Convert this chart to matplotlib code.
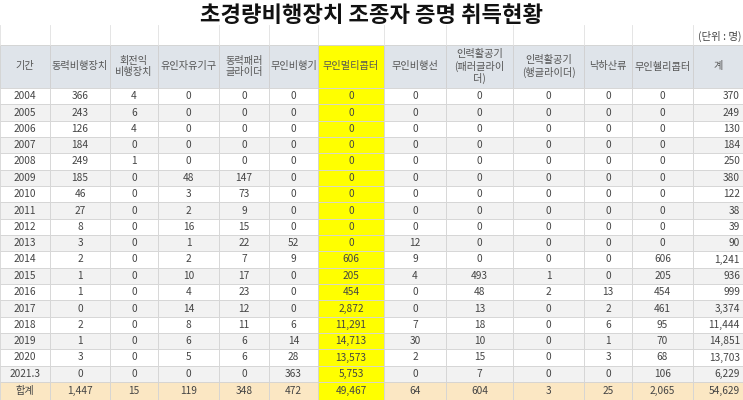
import matplotlib
matplotlib.use('Agg')
import matplotlib.pyplot as plt
from matplotlib.patches import Rectangle

plt.rcParams['font.family'] = 'Noto Sans CJK KR'

TITLE = '초경량비행장치 조종자 증명 취득현황'
UNIT = '(단위 : 명)'
HEADERS = ['기간', '동력비행장치', '회전익\n비행장치', '유인자유기구', '동력패러\n글라이더', '무인비행기',
           '무인멀티콥터', '무인비행선', '인력활공기\n(패러글라이\n더)', '인력활공기\n(행글라이더)',
           '낙하산류', '무인헬리콥터', '계']
YEARS = ['2004', '2005', '2006', '2007', '2008', '2009', '2010', '2011', '2012', '2013',
         '2014', '2015', '2016', '2017', '2018', '2019', '2020', '2021.3', '합계']
powered = [366, 243, 126, 184, 249, 185, 46, 27, 8, 3, 2, 1, 1, 0, 2, 1, 3, 0, 1447]
rotor = [4, 6, 4, 0, 1, 0, 0, 0, 0, 0, 0, 0, 0, 0, 0, 0, 0, 0, 15]
balloon = [0, 0, 0, 0, 0, 48, 3, 2, 16, 1, 2, 10, 4, 14, 8, 6, 5, 0, 119]
paraglider_pw = [0, 0, 0, 0, 0, 147, 73, 9, 15, 22, 7, 17, 23, 12, 11, 6, 6, 0, 348]
uav_plane = [0, 0, 0, 0, 0, 0, 0, 0, 0, 52, 9, 0, 0, 0, 6, 14, 28, 363, 472]
multicopter = [0, 0, 0, 0, 0, 0, 0, 0, 0, 0, 606, 205, 454, 2872, 11291, 14713, 13573, 5753, 49467]
airship = [0, 0, 0, 0, 0, 0, 0, 0, 0, 12, 9, 4, 0, 0, 7, 30, 2, 0, 64]
paraglider = [0, 0, 0, 0, 0, 0, 0, 0, 0, 0, 0, 493, 48, 13, 18, 10, 15, 7, 604]
hangglider = [0, 0, 0, 0, 0, 0, 0, 0, 0, 0, 0, 1, 2, 0, 0, 0, 0, 0, 3]
parachute = [0, 0, 0, 0, 0, 0, 0, 0, 0, 0, 0, 0, 13, 2, 6, 1, 3, 0, 25]
helicopter = [0, 0, 0, 0, 0, 0, 0, 0, 0, 0, 606, 205, 454, 461, 95, 70, 68, 106, 2065]
total = [370, 249, 130, 184, 250, 380, 122, 38, 39, 90, 1241, 936, 999, 3374, 11444, 14851, 13703, 6229, 54629]

columns = [powered, rotor, balloon, paraglider_pw, uav_plane, multicopter, airship,
           paraglider, hangglider, parachute, helicopter, total]

# layout in pixels
COL_X = [0, 50, 110, 158, 219, 269, 318, 384, 446, 513, 584, 632, 693, 743]
HEAD_TOP, HEAD_BOT = 45, 88
ROW_H = (382 - HEAD_BOT) / 18.0
HIGHLIGHT = 6

fig = plt.figure(figsize=(7.43, 4.0), dpi=100)
ax = fig.add_axes([0, 0, 1, 1])
ax.set_xlim(0, 743)
ax.set_ylim(400, 0)
ax.axis('off')

ax.text(371, 15, TITLE, ha='center', va='center', fontsize=16, fontweight='bold', color='#111111')
ax.text(741, 36, UNIT, ha='right', va='center', fontsize=7.5, color='#444444')

# header
for c in range(13):
    x0, x1 = COL_X[c], COL_X[c + 1]
    fc = '#ffff00' if c == HIGHLIGHT else '#dfe4ea'
    ax.add_patch(Rectangle((x0, HEAD_TOP), x1 - x0, HEAD_BOT - HEAD_TOP, fc=fc, ec='#d0d0d0', lw=0.6))
    ax.text((x0 + x1) / 2, (HEAD_TOP + HEAD_BOT) / 2, HEADERS[c], ha='center', va='center',
            fontsize=7.3, color='#555555', linespacing=1.2)
    ax.plot([x0, x0], [25, HEAD_TOP], color='#e0e0e0', lw=0.6)

for r, year in enumerate(YEARS):
    y0 = HEAD_BOT + r * ROW_H
    if r == len(YEARS) - 1:
        y1 = 400
        bg = '#fbe7c3'
    else:
        y1 = y0 + ROW_H
        bg = '#f2f2f2' if r % 2 == 1 else 'white'
    cells = [year] + [f'{col[r]:,}' for col in columns]
    for c in range(13):
        x0, x1 = COL_X[c], COL_X[c + 1]
        fc = '#ffff00' if c == HIGHLIGHT else bg
        ax.add_patch(Rectangle((x0, y0), x1 - x0, y1 - y0, fc=fc, ec='#d4d4d4', lw=0.6))
        ha = 'center'
        tx = (x0 + x1) / 2
        if c == 12:
            ha = 'right'
            tx = x1 - 3
        ax.text(tx, (y0 + y1) / 2, cells[c], ha=ha, va='center', fontsize=7.3, color='#444444')

fig.savefig('out.png', dpi=100)
